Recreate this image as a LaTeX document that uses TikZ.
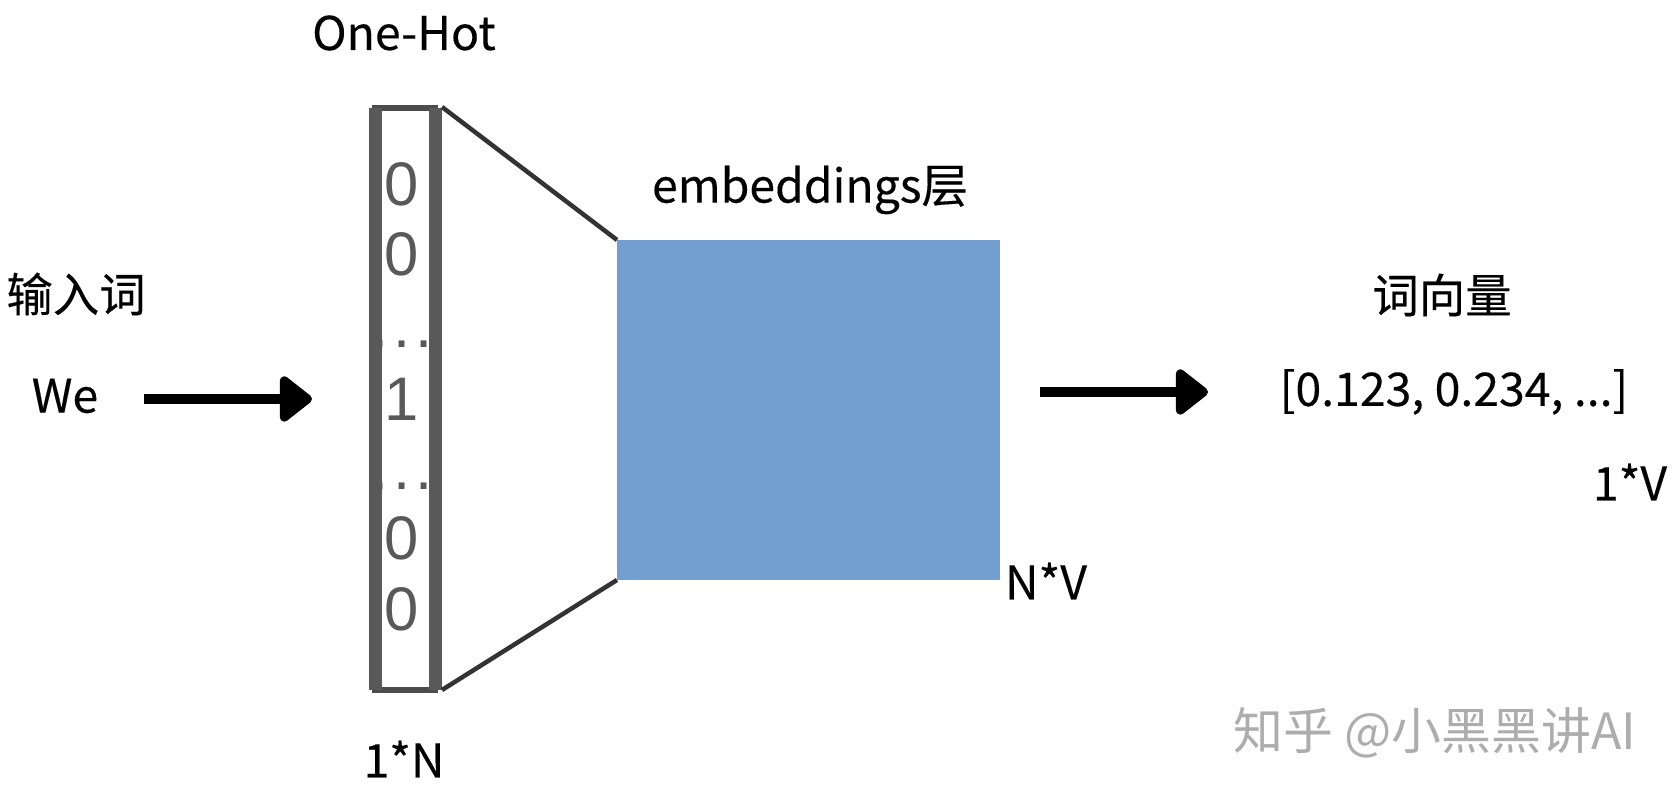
\documentclass[tikz,border=0pt]{standalone}
\usepackage{fontspec}
\setmainfont[FakeBold=0.25]{Noto Sans CJK SC}
\newfontfamily\markfont{Noto Sans CJK SC}
\newfontfamily\digitfont{Liberation Sans}
\usetikzlibrary{arrows.meta}
\definecolor{layerblue}{HTML}{739FD0}
\tikzset{
  txt/.style={font=\fontsize{13.2}{16}\selectfont, inner sep=0pt},
  bit/.style={font=\digitfont\fontsize{17.5}{20}\selectfont, text=black!65, inner sep=0pt},
  wall/.style={line width=.13cm, black!65},
  edge/.style={line width=.045cm, black!80},
  flow/.style={line width=.1cm, -{Triangle[round, length=.35cm, width=.52cm]}},
}
\begin{document}
\begin{tikzpicture}
\useasboundingbox (0,0) rectangle (16.77,7.98);
\node[draw=black!70, line width=.06cm, fill=white, minimum width=.6cm, minimum height=5.82cm, inner sep=0pt, outer sep=0pt] (vec) at (4.05,3.99) {};
\draw[wall] (vec.north west) -- (vec.south west);
\draw[wall] (vec.north east) -- (vec.south east);
\node[fill=layerblue, minimum width=3.83cm, minimum height=3.4cm, inner sep=0pt, outer sep=0pt] (emb) at (8.085,3.88) {};
\coordinate (vectop) at (4.42,6.91);
\coordinate (vecbot) at (4.42,1.08);
\draw[edge] (vectop) -- (emb.north west);
\draw[edge] (vecbot) -- (emb.south west);
\node[bit] (b1) at (4.02,6.14) {0};
\node[bit] (b2) at (4.02,5.44) {0};
\node[bit] (d1) at (4.02,4.54) {.\kern1.3pt.\kern1.3pt.};
\node[bit] (b3) at (4.02,3.99) {1};
\node[bit] (d2) at (4.02,3.12) {.\kern1.3pt.\kern1.3pt.};
\node[bit] (b4) at (4.02,2.60) {0};
\node[bit] (b5) at (4.02,1.89) {0};
\node[txt] (onehot) at (4.04,7.65) {One-Hot};
\node[txt] (size1) at (4.04,.39) {1*N};
\node[txt] (input) at (.76,5.04) {输入词};
\node[txt] (we) at (.65,4.02) {We};
\node[txt] (layer) at (8.10,6.08) {embeddings层};
\node[txt] (size2) at (10.46,2.17) {N*V};
\node[txt] (word) at (14.42,5.03) {词向量};
\node[txt] (result) at (14.54,4.06) {[0.123, 0.234, ...]};
\node[txt] (size3) at (16.30,3.16) {1*V};
\node[font=\markfont\fontsize{14.2}{18}\selectfont, text=black!32, inner sep=0pt] (mark) at (14.35,.65) {知乎 @小黑黑讲AI};
\coordinate (in1) at (1.44,3.99);
\coordinate (in2) at (3.12,3.99);
\coordinate (out1) at (10.40,4.06);
\coordinate (out2) at (12.08,4.06);
\draw[flow] (in1) -- (in2);
\draw[flow] (out1) -- (out2);
\end{tikzpicture}
\end{document}
